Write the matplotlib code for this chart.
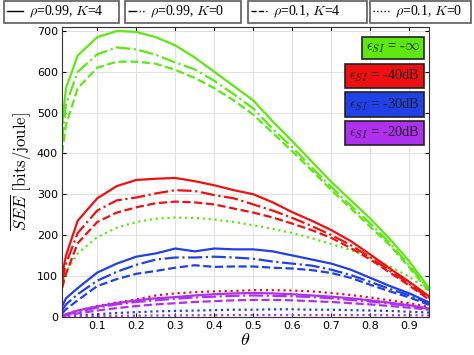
import numpy as np
from matplotlib import pyplot as plt
from matplotlib.lines import Line2D

plt.rcParams['mathtext.fontset'] = 'cm'
plt.rcParams['font.family'] = 'DejaVu Sans'

theta = [0.01, 0.02, 0.05, 0.1, 0.15, 0.2, 0.25, 0.3, 0.35, 0.4, 0.45,
         0.5, 0.55, 0.6, 0.65, 0.7, 0.75, 0.8, 0.85, 0.9, 0.95]

# eps_SI = -inf (green)
inf_r099_k4 = [470, 560, 640, 685, 700, 698, 685, 665, 635, 600, 565,
               530, 478, 430, 380, 330, 285, 240, 190, 135, 70]
inf_r099_k0 = [430, 520, 600, 643, 660, 655, 642, 623, 606, 578, 545,
               510, 460, 415, 365, 318, 272, 228, 180, 125, 65]
inf_r01_k4 = [400, 470, 560, 610, 625, 625, 620, 605, 585, 560, 530,
              495, 450, 405, 358, 310, 265, 220, 175, 120, 62]
inf_r01_k0 = [75, 110, 155, 195, 218, 232, 240, 243, 242, 238, 232,
              224, 215, 205, 192, 178, 163, 145, 123, 98, 62]

# eps_SI = -40dB (red)
m40_r099_k4 = [100, 150, 235, 290, 320, 335, 338, 340, 332, 322, 310,
               300, 280, 256, 235, 212, 185, 152, 118, 85, 50]
m40_r099_k0 = [85, 130, 205, 260, 285, 292, 302, 310, 308, 298, 290,
               275, 260, 242, 222, 200, 175, 145, 112, 80, 45]
m40_r01_k4 = [70, 105, 180, 232, 255, 268, 278, 282, 280, 275, 265,
              255, 243, 228, 212, 193, 168, 140, 108, 76, 42]
m40_r01_k0 = [3, 6, 15, 26, 35, 42, 52, 57, 60, 62, 63,
              65, 65, 64, 62, 58, 53, 47, 40, 33, 24]

# eps_SI = -30dB (blue)
m30_r099_k4 = [25, 45, 70, 108, 130, 147, 155, 167, 160, 167, 165,
               165, 160, 150, 140, 130, 115, 95, 75, 57, 35]
m30_r099_k0 = [15, 30, 55, 88, 110, 127, 140, 145, 145, 147, 145,
               142, 135, 130, 125, 115, 102, 85, 68, 52, 33]
m30_r01_k4 = [8, 18, 40, 75, 92, 105, 112, 120, 126, 122, 123,
              123, 120, 118, 114, 107, 95, 78, 62, 47, 29]
m30_r01_k0 = [0.5, 1, 3, 6, 9, 11, 13, 14, 15, 16, 17,
              17, 18, 18, 17, 17, 16, 15, 14, 12, 10]

# eps_SI = -20dB (purple)
m20_r099_k4 = [3, 6, 15, 25, 33, 40, 45, 48, 52, 55, 57,
               58, 57, 55, 52, 49, 45, 40, 34, 28, 20]
m20_r099_k0 = [2, 4, 12, 22, 30, 36, 40, 44, 47, 49, 51,
               52, 51, 50, 48, 45, 41, 37, 32, 26, 19]
m20_r01_k4 = [1, 3, 8, 15, 21, 26, 30, 33, 36, 38, 40,
              41, 41, 40, 38, 36, 33, 30, 26, 22, 17]
m20_r01_k0 = [0.2, 0.5, 1, 1.5, 2, 2.5, 3, 3, 3.5, 3.5, 4,
              4, 4, 4, 4, 4, 4, 4, 3.5, 3.5, 3]

green, red, blue, purple = '#5ee812', '#f01010', '#2040e8', '#b030f0'
styles = ['-', '-.', '--', ':']

groups = [
    (green, [inf_r099_k4, inf_r099_k0, inf_r01_k4, inf_r01_k0]),
    (red, [m40_r099_k4, m40_r099_k0, m40_r01_k4, m40_r01_k0]),
    (blue, [m30_r099_k4, m30_r099_k0, m30_r01_k4, m30_r01_k0]),
    (purple, [m20_r099_k4, m20_r099_k0, m20_r01_k4, m20_r01_k0]),
]

fig = plt.figure(figsize=(4.74, 3.55), dpi=100)
ax = fig.add_axes([0.131, 0.108, 0.774, 0.816])

for color, series in groups:
    for ls, vals in zip(styles, series):
        ax.plot(theta, vals, color=color, linestyle=ls, linewidth=1.6)

ax.set_xlim(0.01, 0.95)
ax.set_ylim(0, 710)
ax.set_xticks(np.arange(0.1, 0.95, 0.1))
ax.set_xticklabels(['0.1', '0.2', '0.3', '0.4', '0.5', '0.6', '0.7', '0.8', '0.9'])
ax.set_yticks(range(0, 701, 100))
ax.tick_params(direction='in', top=True, right=True, labelsize=8, length=3, pad=3)
ax.grid(True, color='#e0e0e0', linewidth=0.7)
for s in ax.spines.values():
    s.set_color('#333333')

ax.set_xlabel(r'$\theta$', fontsize=13, labelpad=0)
ax.set_ylabel(r'$\overline{SEE}\ \mathrm{[bits/joule]}$', fontsize=12, labelpad=2)

# coloured boxes for eps_SI
box_labels = [r'$\epsilon_{SI}$ = -$\infty$', r'$\epsilon_{SI}$ = -40dB',
              r'$\epsilon_{SI}$ = -30dB', r'$\epsilon_{SI}$ = -20dB']
box_y = [0.927, 0.831, 0.733, 0.634]
for (color, _), lab, y in zip(groups, box_labels, box_y):
    ax.text(0.975, y, lab, transform=ax.transAxes, ha='right', va='center',
            fontsize=10.5, color='#222222', fontfamily='Liberation Serif',
            bbox=dict(boxstyle='square,pad=0.28', facecolor=color,
                      edgecolor='#222222', linewidth=1.2))

# top legend: one box per line style
leg_labels = [r'$\rho$=0.99, $K$=4', r'$\rho$=0.99, $K$=0',
              r'$\rho$=0.1, $K$=4', r'$\rho$=0.1, $K$=0']
leg_x = [(4, 119), (125, 241), (248, 367), (370, 471)]
for ls, lab, (x0, x1) in zip(styles, leg_labels, leg_x):
    h = Line2D([], [], color='black', linestyle=ls, linewidth=1.0)
    leg = fig.legend(handles=[h], labels=[lab], loc='upper left',
                     bbox_to_anchor=(x0 / 474, 1 - 1 / 355, (x1 - x0) / 474, 0.0),
                     mode='expand', fontsize=10, frameon=True, fancybox=False,
                     handlelength=1.2, handletextpad=0.4, borderpad=0.2,
                     borderaxespad=0)
    leg.get_frame().set_edgecolor('#333333')
    leg.get_frame().set_linewidth(1.2)
    for t in leg.get_texts():
        t.set_fontfamily('Liberation Serif')

fig.savefig('out.png', dpi=100)
